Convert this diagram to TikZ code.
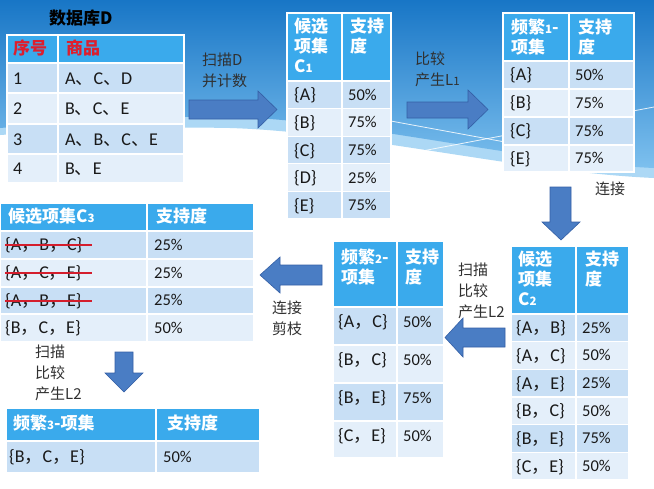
\documentclass[tikz,border=0pt]{standalone}
\usepackage{fontspec}
\setmainfont{Carlito}
\newfontfamily\cjk{Noto Sans CJK SC}
\newcommand\dn{{\cjk 、}}
\newcommand\cm{{\cjk ，}}
\newcommand\sm[1]{{\fontsize{11.5}{11.5}\selectfont #1}}
\definecolor{hdr}{RGB}{58,170,236}
\definecolor{rowA}{RGB}{200,223,245}
\definecolor{rowB}{RGB}{228,239,250}
\definecolor{arr}{RGB}{74,125,196}
\definecolor{arrline}{RGB}{52,95,165}
\definecolor{skyA}{RGB}{24,118,198}
\definecolor{skyB}{RGB}{125,192,238}
\definecolor{skyC}{RGB}{172,216,245}
\definecolor{strike}{RGB}{212,30,45}
\definecolor{hdrred}{RGB}{222,30,45}
\definecolor{ink}{RGB}{25,25,25}
\tikzset{
  cellbox/.style={draw=white, line width=1.2pt},
  hdrbox/.style={cellbox, fill=hdr},
  darkrow/.style={cellbox, fill=rowA},
  lightrow/.style={cellbox, fill=rowB},
  celltxt/.style={anchor=west, inner sep=0pt, text height=13pt, text depth=1.4pt, text=ink, font=\fontsize{18}{20}\selectfont},
  pcttxt/.style={celltxt, text height=12pt, text depth=1.6pt, font=\fontsize{16.5}{18}\selectfont},
  hdrtxt/.style={anchor=north west, inner sep=0pt, align=left, text=white, font=\cjk\bfseries\fontsize{17}{20}\selectfont},
  hdrline/.style={anchor=west, inner sep=0pt, text height=12pt, text depth=2pt, text=white, font=\cjk\bfseries\fontsize{17}{20}\selectfont},
  redhdr/.style={hdrline, text=hdrred},
  titletxt/.style={anchor=west, inner sep=0pt, text=black, font=\cjk\bfseries\fontsize{17}{20}\selectfont},
  labeltxt/.style={anchor=north west, inner sep=0pt, align=left, text=ink!90, font=\cjk\fontsize{15}{21}\selectfont},
  blockarrow/.style={fill=arr, draw=arrline, line width=0.6pt, line join=miter},
  strikeline/.style={draw=strike, line width=1.6pt},
}
\begin{document}
\begin{tikzpicture}[x=1pt,y=-1pt]
\useasboundingbox (0,0) rectangle (654,488);
% background
\fill[white] (0,0) rectangle (654,488);
\fill[skyC] (0,0) -- (654,0) -- (654,178) .. controls (520,172) and (360,132) .. (230,128) .. controls (130,126) and (50,132) .. (0,135) -- cycle;
\shade[top color=skyA, bottom color=skyB] (0,0) -- (654,0) -- (654,168) .. controls (520,162) and (360,120) .. (230,117) .. controls (130,115) and (50,124) .. (0,128) -- cycle;
\draw[white, line width=0.8pt, opacity=0.85] (320,108) -- (505,142);
\draw[white, line width=0.8pt, opacity=0.85] (380,159) -- (654,107);

% ---------- Table D ----------
\node[titletxt] (dtitle) at (49,18) {数据库D};
\path[hdrbox] (7,35) rectangle (58,63) (58,35) rectangle (184,63);
\path[darkrow] (7,63) rectangle (58,93) (58,63) rectangle (184,93);
\path[lightrow] (7,93) rectangle (58,124) (58,93) rectangle (184,124);
\path[darkrow] (7,124) rectangle (58,154) (58,124) rectangle (184,154);
\path[lightrow] (7,154) rectangle (58,183) (58,154) rectangle (184,183);
\node[redhdr] (dh1) at (13,49) {序号};
\node[redhdr] (dh2) at (66,49) {商品};
\node[celltxt] (d1a) at (13,79) {1};
\node[celltxt] (d1b) at (65,79) {A\dn C\dn D};
\node[celltxt] (d2a) at (13,109) {2};
\node[celltxt] (d2b) at (65,109) {B\dn C\dn E};
\node[celltxt] (d3a) at (13,140) {3};
\node[celltxt] (d3b) at (65,140) {A\dn B\dn C\dn E};
\node[celltxt] (d4a) at (13,169) {4};
\node[celltxt] (d4b) at (65,169) {B\dn E};

% ---------- Table C1 ----------
\path[hdrbox] (287,13) rectangle (342,81) (342,13) rectangle (391,81);
\path[darkrow] (287,81) rectangle (342,108.6) (342,81) rectangle (391,108.6);
\path[lightrow] (287,108.6) rectangle (342,136.2) (342,108.6) rectangle (391,136.2);
\path[darkrow] (287,136.2) rectangle (342,163.8) (342,136.2) rectangle (391,163.8);
\path[lightrow] (287,163.8) rectangle (342,191.4) (342,163.8) rectangle (391,191.4);
\path[darkrow] (287,191.4) rectangle (342,219) (342,191.4) rectangle (391,219);
\node[hdrtxt] (c1h1) at (294,18) {候选\\项集\\C\sm{1}};
\node[hdrtxt] (c1h2) at (350,18) {支持\\度};
\node[celltxt] (c1r1a) at (294,95) {\{A\}};
\node[pcttxt] (c1r1b) at (348,95) {50\%};
\node[celltxt] (c1r2a) at (294,122.6) {\{B\}};
\node[pcttxt] (c1r2b) at (348,122.6) {75\%};
\node[celltxt] (c1r3a) at (294,150.2) {\{C\}};
\node[pcttxt] (c1r3b) at (348,150.2) {75\%};
\node[celltxt] (c1r4a) at (294,177.8) {\{D\}};
\node[pcttxt] (c1r4b) at (348,177.8) {25\%};
\node[celltxt] (c1r5a) at (294,205.4) {\{E\}};
\node[pcttxt] (c1r5b) at (348,205.4) {75\%};

% ---------- Table L1 ----------
\path[hdrbox] (503,13) rectangle (569,61) (569,13) rectangle (634,61);
\path[darkrow] (503,61) rectangle (569,89) (569,61) rectangle (634,89);
\path[lightrow] (503,89) rectangle (569,117) (569,89) rectangle (634,117);
\path[darkrow] (503,117) rectangle (569,145) (569,117) rectangle (634,145);
\path[lightrow] (503,145) rectangle (569,172) (569,145) rectangle (634,172);
\node[hdrtxt] (l1h1) at (511,19) {频繁\sm{1}-\\项集};
\node[hdrtxt] (l1h2) at (578,19) {支持\\度};
\node[celltxt] (l1r1a) at (510,75) {\{A\}};
\node[pcttxt] (l1r1b) at (575,75) {50\%};
\node[celltxt] (l1r2a) at (510,103) {\{B\}};
\node[pcttxt] (l1r2b) at (575,103) {75\%};
\node[celltxt] (l1r3a) at (510,131) {\{C\}};
\node[pcttxt] (l1r3b) at (575,131) {75\%};
\node[celltxt] (l1r4a) at (510,158.5) {\{E\}};
\node[pcttxt] (l1r4b) at (575,158.5) {75\%};

% ---------- Table C2 ----------
\path[hdrbox] (511,246) rectangle (576,314) (576,246) rectangle (629,314);
\path[darkrow] (511,314) rectangle (576,341.7) (576,314) rectangle (629,341.7);
\path[lightrow] (511,341.7) rectangle (576,369.3) (576,341.7) rectangle (629,369.3);
\path[darkrow] (511,369.3) rectangle (576,397) (576,369.3) rectangle (629,397);
\path[lightrow] (511,397) rectangle (576,424.7) (576,397) rectangle (629,424.7);
\path[darkrow] (511,424.7) rectangle (576,452.3) (576,424.7) rectangle (629,452.3);
\path[lightrow] (511,452.3) rectangle (576,480) (576,452.3) rectangle (629,480);
\node[hdrtxt] (c2h1) at (518,251) {候选\\项集\\C\sm{2}};
\node[hdrtxt] (c2h2) at (585,251) {支持\\度};
\node[celltxt] (c2r1a) at (516,328) {\{A\cm B\}};
\node[pcttxt] (c2r1b) at (582,328) {25\%};
\node[celltxt] (c2r2a) at (516,355.7) {\{A\cm C\}};
\node[pcttxt] (c2r2b) at (582,355.7) {50\%};
\node[celltxt] (c2r3a) at (516,383.4) {\{A\cm E\}};
\node[pcttxt] (c2r3b) at (582,383.4) {25\%};
\node[celltxt] (c2r4a) at (516,411) {\{B\cm C\}};
\node[pcttxt] (c2r4b) at (582,411) {50\%};
\node[celltxt] (c2r5a) at (516,438.7) {\{B\cm E\}};
\node[pcttxt] (c2r5b) at (582,438.7) {75\%};
\node[celltxt] (c2r6a) at (516,466.4) {\{C\cm E\}};
\node[pcttxt] (c2r6b) at (582,466.4) {50\%};

% ---------- Table L2 ----------
\path[hdrbox] (333,241) rectangle (397,307) (397,241) rectangle (444,307);
\path[darkrow] (333,307) rectangle (397,345) (397,307) rectangle (444,345);
\path[lightrow] (333,345) rectangle (397,383) (397,345) rectangle (444,383);
\path[darkrow] (333,383) rectangle (397,421) (397,383) rectangle (444,421);
\path[lightrow] (333,421) rectangle (397,458) (397,421) rectangle (444,458);
\node[hdrtxt] (l2h1) at (341,249) {频繁\sm{2}-\\项集};
\node[hdrtxt] (l2h2) at (405,249) {支持\\度};
\node[celltxt] (l2r1a) at (338,322) {\{A\cm C\}};
\node[pcttxt] (l2r1b) at (403,322) {50\%};
\node[celltxt] (l2r2a) at (338,360) {\{B\cm C\}};
\node[pcttxt] (l2r2b) at (403,360) {50\%};
\node[celltxt] (l2r3a) at (338,398) {\{B\cm E\}};
\node[pcttxt] (l2r3b) at (403,398) {75\%};
\node[celltxt] (l2r4a) at (338,436) {\{C\cm E\}};
\node[pcttxt] (l2r4b) at (403,436) {50\%};

% ---------- Table C3 ----------
\path[hdrbox] (0,203) rectangle (147,231) (147,203) rectangle (254,231);
\path[darkrow] (0,231) rectangle (147,259) (147,231) rectangle (254,259);
\path[lightrow] (0,259) rectangle (147,287) (147,259) rectangle (254,287);
\path[darkrow] (0,287) rectangle (147,314) (147,287) rectangle (254,314);
\path[lightrow] (0,314) rectangle (147,342) (147,314) rectangle (254,342);
\node[hdrline] (c3h1) at (8,217) {候选项集C\sm{3}};
\node[hdrline] (c3h2) at (156,217) {支持度};
\node[celltxt] (c3r1a) at (5,245) {\{A\cm B\cm C\}};
\node[pcttxt] (c3r1b) at (154,245) {25\%};
\node[celltxt] (c3r2a) at (5,273) {\{A\cm C\cm E\}};
\node[pcttxt] (c3r2b) at (154,273) {25\%};
\node[celltxt] (c3r3a) at (5,300.5) {\{A\cm B\cm E\}};
\node[pcttxt] (c3r3b) at (154,300.5) {25\%};
\node[celltxt] (c3r4a) at (5,328) {\{B\cm C\cm E\}};
\node[pcttxt] (c3r4b) at (154,328) {50\%};
\draw[strikeline] (5,245) -- (92,245);
\draw[strikeline] (5,273) -- (92,273);
\draw[strikeline] (5,301) -- (92,301);

% ---------- Table L3 ----------
\path[hdrbox] (6,408) rectangle (156,441) (156,408) rectangle (260,441);
\path[darkrow] (6,441) rectangle (156,473) (156,441) rectangle (260,473);
\node[hdrline] (l3h1) at (13,424) {频繁\sm{3}-项集};
\node[hdrline] (l3h2) at (167,424) {支持度};
\node[celltxt] (l3r1a) at (9,457) {\{B\cm C\cm E\}};
\node[pcttxt] (l3r1b) at (163,457) {50\%};

% ---------- arrows ----------
\draw[blockarrow] (189,100) -- (258,100) -- (258,91) -- (277,109.5) -- (258,128) -- (258,119) -- (189,119) -- cycle;
\draw[blockarrow] (407,102) -- (468,102) -- (468,90) -- (488,109.5) -- (468,129) -- (468,118) -- (407,118) -- cycle;
\draw[blockarrow] (550,187) -- (571,187) -- (571,222) -- (580,222) -- (561,240) -- (542,222) -- (550,222) -- cycle;
\draw[blockarrow] (505,328) -- (463,328) -- (463,318) -- (445,337.5) -- (463,357) -- (463,347) -- (505,347) -- cycle;
\draw[blockarrow] (322,265) -- (280,265) -- (280,257) -- (260,275) -- (280,293) -- (280,285) -- (322,285) -- cycle;
\draw[blockarrow] (115,352) -- (133,352) -- (133,373) -- (143,373) -- (124,392) -- (105,373) -- (115,373) -- cycle;

% ---------- labels ----------
\node[labeltxt] (lab1) at (202,53) {扫描D\\并计数};
\node[labeltxt] (lab2) at (415,52) {比较\\产生L\sm{1}};
\node[labeltxt] (lab3) at (595,182) {连接};
\node[labeltxt] (lab4) at (458,263) {扫描\\比较\\产生L2};
\node[labeltxt] (lab5) at (272,301) {连接\\剪枝};
\node[labeltxt] (lab6) at (35,345) {扫描\\比较\\产生L2};
\end{tikzpicture}
\end{document}
